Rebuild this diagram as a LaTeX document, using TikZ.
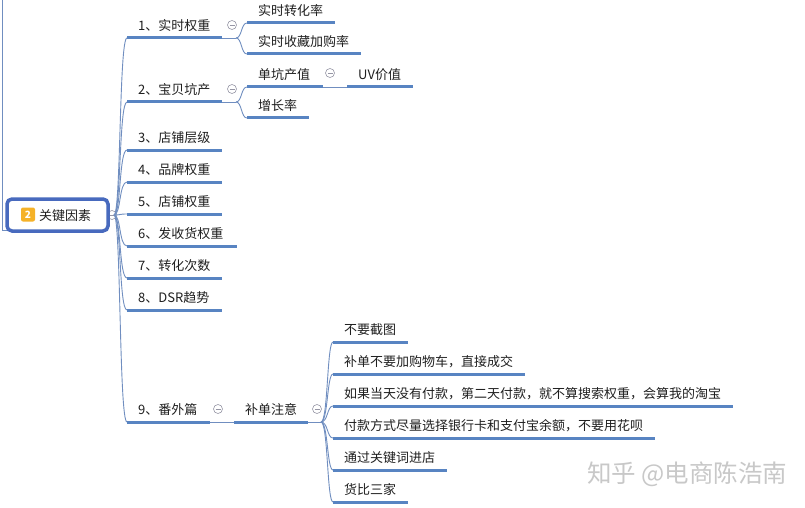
\documentclass[tikz,border=0pt]{standalone}
\usepackage{fontspec}
\setmainfont{Noto Sans CJK SC}
\definecolor{uline}{RGB}{88,132,194}
\definecolor{conn}{RGB}{112,142,192}
\definecolor{rootb}{RGB}{72,106,190}
\definecolor{badge}{RGB}{245,178,40}
\definecolor{ctrl}{RGB}{150,150,165}
\definecolor{wm}{RGB}{200,200,200}
\tikzset{
  ul/.style={line width=3pt, draw=uline},
  cn/.style={line width=0.9pt, draw=conn},
  lbl/.style={anchor=west, inner sep=0pt, font=\fontsize{13}{15}\selectfont, text=black!88},
  fold/.style={circle, draw=ctrl, fill=white, line width=0.6pt, minimum size=9pt, inner sep=0pt,
    path picture={\draw[ctrl,line width=0.6pt] ([xshift=-2.5pt]path picture bounding box.center) -- ([xshift=2.5pt]path picture bounding box.center);}},
  rootbox/.style={draw=rootb, line width=3.5pt, rounded corners=5pt, fill=white, minimum width=101pt, minimum height=32pt, inner sep=0pt},
  badgebox/.style={fill=badge, rounded corners=2pt, minimum size=14pt, inner sep=0pt, text=white, font=\fontsize{10}{10}\selectfont\bfseries},
}
\newcommand\topic[5]{%
  \coordinate (#1-s) at (#2,#4);
  \coordinate (#1-e) at (#3,#4);
  \draw[ul] (#1-s) -- (#1-e);
  \node[lbl] (#1) at (#2+11,#4-12.5) {#5};
}
\begin{document}
\begin{tikzpicture}[x=1pt,y=-1pt]
\useasboundingbox[fill=white] (0,0) rectangle (805,508);

% incoming connector at left edge
\coordinate (top) at (2,0);
\coordinate (rootin) at (8,230);
\draw[cn] (top) |- (rootin);

% root
\node[fold] (rf) at (112,215) {};
\coordinate (rc) at (114,215);

% main branches
\topic{c1}{127}{222}{38}{1、实时权重}
\topic{c2}{127}{222}{102}{2、宝贝坑产}
\topic{c3}{127}{222}{150}{3、店铺层级}
\topic{c4}{127}{222}{182}{4、品牌权重}
\topic{c5}{127}{222}{214}{5、店铺权重}
\topic{c6}{127}{237}{246}{6、发收货权重}
\topic{c7}{127}{222}{278}{7、转化次数}
\topic{c8}{127}{222}{310}{8、DSR趋势}
\topic{c9}{127}{210}{422}{9、番外篇}

\foreach \c/\y in {c1/38,c2/102,c3/150,c4/182,c5/214,c6/246,c7/278,c8/310,c9/422}
  \draw[cn] (rc) .. controls (121,215) and (119,\y) .. (\c-s);

\node[rootbox] (root) at (57.5,215) {};
\node[badgebox] (badge) at (28,214.5) {2};
\node[lbl] (roottext) at (39,215.5) {关键因素};

% branch 1
\topic{c11}{247}{335}{23}{实时转化率}
\topic{c12}{247}{361}{54}{实时收藏加购率}
\node[fold] (f1) at (232,25) {};
\coordinate (j1) at (236,38);
\draw[cn] (c1-e) -- (j1);
\draw[cn] (j1) .. controls (242,38) and (241,23) .. (c11-s);
\draw[cn] (j1) .. controls (242,38) and (241,54) .. (c12-s);

% branch 2
\topic{c21}{247}{323}{87}{单坑产值}
\topic{c22}{247}{309}{118}{增长率}
\node[fold] (f2) at (232,89) {};
\coordinate (j2) at (236,102);
\draw[cn] (c2-e) -- (j2);
\draw[cn] (j2) .. controls (242,102) and (241,87) .. (c21-s);
\draw[cn] (j2) .. controls (242,102) and (241,118) .. (c22-s);

\topic{c211}{347}{413}{87}{UV价值}
\node[fold] (f21) at (330,73) {};
\draw[cn] (c21-e) -- (c211-s);

% branch 9
\topic{c91}{234}{308}{422}{补单注意}
\node[fold] (f9) at (218,409) {};
\draw[cn] (c9-e) -- (c91-s);
\node[fold] (f91) at (317,409) {};
\coordinate (j9) at (321,422);
\draw[cn] (c91-e) -- (j9);

\topic{d1}{333}{408}{342}{不要截图}
\topic{d2}{333}{525}{374}{补单不要加购物车，直接成交}
\topic{d3}{333}{733}{406}{如果当天没有付款，第二天付款，就不算搜索权重，会算我的淘宝}
\topic{d4}{333}{655}{438}{付款方式尽量选择银行卡和支付宝余额，不要用花呗}
\topic{d5}{333}{447}{470}{通过关键词进店}
\topic{d6}{333}{408}{502}{货比三家}
\foreach \d/\y in {d1/342,d2/374,d3/406,d4/438,d5/470,d6/502}
  \draw[cn] (j9) .. controls (328,422) and (327,\y) .. (\d-s);

% watermark
\node[anchor=west, inner sep=0pt, text=wm, font=\fontsize{24.5}{26}\selectfont] (wmk) at (587,474) {知乎 @电商陈浩南};
\end{tikzpicture}
\end{document}
